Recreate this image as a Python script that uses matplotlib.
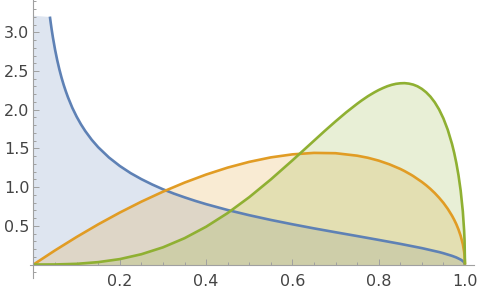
import numpy as np
import matplotlib
matplotlib.use("Agg")
import matplotlib.pyplot as plt
from matplotlib.ticker import MultipleLocator, FixedLocator

# curve samples (density values)
blue_x = [0.0, 0.038, 0.04, 0.042, 0.045, 0.05, 0.055, 0.06, 0.065, 0.07, 0.075, 0.08, 0.09, 0.1, 0.11,
          0.12, 0.135, 0.15, 0.175, 0.2, 0.225, 0.25, 0.275, 0.3, 0.325, 0.35, 0.375,
          0.4, 0.45, 0.5, 0.55, 0.6, 0.65, 0.7, 0.75, 0.8, 0.85, 0.9, 0.94, 0.95, 0.97, 0.98,
          0.99, 0.995, 0.998, 1.0]
blue_y = [np.inf, 3.203, 3.119, 3.040, 2.933, 2.775, 2.639, 2.520, 2.414, 2.320, 2.236, 2.159, 2.024, 1.910, 1.811,
          1.724, 1.611, 1.515, 1.382, 1.273, 1.181, 1.103, 1.034, 0.972, 0.917, 0.868, 0.822,
          0.780, 0.704, 0.637, 0.576, 0.520, 0.467, 0.417, 0.368, 0.318, 0.267, 0.212, 0.161, 0.146, 0.112, 0.091,
          0.064, 0.045, 0.0285, 0.0]

orange_x = [0.0, 0.05, 0.1, 0.15, 0.2, 0.25, 0.3, 0.35, 0.4, 0.45, 0.5, 0.55, 0.6, 0.65, 0.7,
            0.75, 0.775, 0.8, 0.825, 0.85, 0.86, 0.875, 0.88, 0.9, 0.91, 0.92, 0.93, 0.94, 0.95, 0.96,
            0.97, 0.975, 0.98, 0.985, 0.99, 0.995, 0.998, 0.999, 1.0]
orange_y = [0.0, 0.183, 0.356, 0.519, 0.671, 0.812, 0.941, 1.058, 1.162, 1.252, 1.326, 1.384, 1.423, 1.442, 1.438,
            1.406, 1.379, 1.342, 1.294, 1.235, 1.207, 1.160, 1.143, 1.067, 1.024, 0.976, 0.923, 0.863, 0.797, 0.720,
            0.630, 0.578, 0.520, 0.452, 0.371, 0.264, 0.167, 0.119, 0.0]

green_x = [0.0, 0.05, 0.1, 0.15, 0.2, 0.25, 0.3, 0.35, 0.4, 0.45, 0.5, 0.55, 0.6, 0.625, 0.65, 0.675,
           0.7, 0.725, 0.75, 0.76, 0.775, 0.78, 0.79, 0.8, 0.81, 0.82, 0.83, 0.84, 0.85, 0.86, 0.87,
           0.88, 0.89, 0.9, 0.91, 0.92, 0.93, 0.94, 0.95, 0.96, 0.97, 0.975, 0.98, 0.985, 0.99, 0.995,
           0.998, 0.999, 1.0]
green_y = [0.0, 0.001, 0.009, 0.031, 0.070, 0.133, 0.222, 0.340, 0.488, 0.665, 0.870, 1.099, 1.345, 1.472, 1.599, 1.726,
           1.849, 1.967, 2.076, 2.117, 2.174, 2.191, 2.224, 2.254, 2.280, 2.303, 2.321, 2.334, 2.341, 2.343, 2.337,
           2.324, 2.302, 2.269, 2.225, 2.168, 2.095, 2.003, 1.887, 1.742, 1.556, 1.443, 1.310, 1.152, 0.955, 0.686,
           0.438, 0.310, 0.0]

y_cap = 3.22  # plot range top
x_ticks = [0.2, 0.4, 0.6, 0.8, 1.0]
y_ticks = [0.5, 1.0, 1.5, 2.0, 2.5, 3.0]

colors = ["#5E81B5", "#E19C24", "#8FB032"]
series = [(blue_x, blue_y), (orange_x, orange_y), (green_x, green_y)]

fig = plt.figure(figsize=(4.8, 2.96), dpi=100)
ax = fig.add_axes([30 / 480, 1 - 278 / 296, 444 / 480, 278 / 296])

for (xs, ys), c in zip(series, colors):
    xs = np.array(xs)
    ys = np.array(ys, dtype=float)
    ax.fill_between(xs, 0, np.minimum(ys, y_cap), color=c, alpha=0.2, linewidth=0)
for (xs, ys), c in zip(series, colors):
    xs = np.array(xs)
    ys = np.array(ys, dtype=float)
    keep = ys <= y_cap
    ax.plot(xs[keep], ys[keep], color=c, linewidth=1.9, solid_capstyle="butt", solid_joinstyle="round")

ax.set_xlim(-0.0081, 1.0209)
ax.set_ylim(-0.174, 3.417)

for s in ["top", "right"]:
    ax.spines[s].set_visible(False)
ax.spines["left"].set_position(("data", 0))
ax.spines["bottom"].set_position(("data", 0))
for s in ["left", "bottom"]:
    ax.spines[s].set_color("#a0a0a0")
    ax.spines[s].set_linewidth(0.8)

ax.xaxis.set_major_locator(FixedLocator(x_ticks))
ax.yaxis.set_major_locator(FixedLocator(y_ticks))
ax.xaxis.set_minor_locator(MultipleLocator(0.05))
ax.yaxis.set_minor_locator(MultipleLocator(0.1))
ax.set_xticklabels([f"{v:.1f}" for v in x_ticks])
ax.set_yticklabels([f"{v:.1f}" for v in y_ticks])
ax.tick_params(which="both", direction="in", color="#a0a0a0", width=0.7, labelcolor="#444444", labelsize=11.5)
ax.tick_params(which="major", length=4.5)
ax.tick_params(which="minor", length=2.5)
ax.tick_params(axis="x", pad=7)
ax.tick_params(axis="y", pad=3)

fig.savefig("out.png", dpi=100)
